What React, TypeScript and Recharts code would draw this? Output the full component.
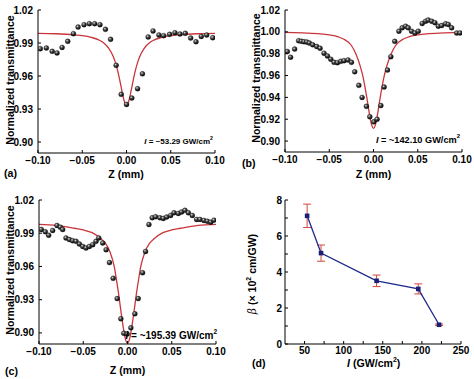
import React from "react"
import { ComposedChart, Line, Scatter, XAxis, YAxis, ErrorBar } from "recharts"

// (a) I = ~53.29 GW/cm2
const zA = [-0.0974, -0.0906, -0.084, -0.0785, -0.0728, -0.0664, -0.06, -0.0547, -0.048, -0.042, -0.036, -0.03, -0.0238, -0.018, -0.0117, -0.006, 0.0, 0.006, 0.0125, 0.018, 0.0245, 0.03, 0.0366, 0.042, 0.0487, 0.0547, 0.0604, 0.0664, 0.0725, 0.0785, 0.0845, 0.0906, 0.0974]
const tA = [0.9848, 0.9855, 0.9824, 0.981, 0.986, 0.9915, 0.9985, 1.0045, 1.0067, 1.0076, 1.0076, 1.0067, 1.0024, 0.9933, 0.9697, 0.9433, 0.9342, 0.94, 0.9485, 0.962, 0.9955, 1.001, 0.9973, 0.9967, 0.9979, 0.9994, 0.9982, 0.9988, 0.9945, 0.9912, 0.996, 0.9973, 0.9948]

// (b) I = ~142.10 GW/cm2
const zB = [-0.0974, -0.0937, -0.0891, -0.0846, -0.0815, -0.0786, -0.0755, -0.0725, -0.0687, -0.0642, -0.0604, -0.0559, -0.0521, -0.0483, -0.0446, -0.0408, -0.037, -0.0333, -0.0288, -0.0249, -0.0212, -0.0166, -0.0129, -0.008, -0.0042, 0.0003, 0.004, 0.0083, 0.012, 0.0158, 0.0196, 0.024, 0.0287, 0.0324, 0.0362, 0.0392, 0.043, 0.0468, 0.0505, 0.055, 0.0589, 0.0618, 0.0657, 0.0694, 0.0732, 0.077, 0.0815, 0.0845, 0.0883, 0.094, 0.0977]
const tB = [0.982, 0.9768, 0.9842, 0.9919, 0.9913, 0.991, 0.9907, 0.9898, 0.9882, 0.9866, 0.985, 0.9805, 0.978, 0.975, 0.9721, 0.9718, 0.973, 0.9736, 0.9743, 0.9721, 0.9634, 0.951, 0.94, 0.9318, 0.9223, 0.9176, 0.92, 0.9325, 0.9495, 0.965, 0.9773, 0.9913, 1.0006, 1.0037, 1.0052, 1.0037, 1.0006, 0.999, 1.0006, 1.0077, 1.0098, 1.0108, 1.0098, 1.0084, 1.0052, 1.0058, 1.0074, 1.0068, 1.0037, 0.999, 0.999]

// (c) I = ~195.39 GW/cm2
const zC = [-0.0974, -0.0929, -0.0891, -0.0846, -0.0797, -0.0759, -0.0733, -0.0695, -0.0657, -0.062, -0.0582, -0.0544, -0.0506, -0.0469, -0.0431, -0.0393, -0.0356, -0.0325, -0.028, -0.0242, -0.0204, -0.0162, -0.0117, -0.0075, -0.0042, -0.0004, 0.0038, 0.0083, 0.0121, 0.017, 0.0204, 0.0242, 0.0279, 0.0317, 0.0366, 0.0404, 0.0442, 0.0487, 0.0525, 0.0574, 0.0611, 0.0649, 0.0687, 0.0732, 0.0781, 0.0819, 0.0864, 0.0902, 0.094, 0.0977]
const tC = [0.9934, 0.9913, 0.9882, 0.9925, 0.997, 0.9955, 0.9934, 0.9858, 0.9843, 0.9833, 0.9827, 0.9803, 0.9781, 0.9767, 0.9781, 0.9797, 0.9827, 0.9858, 0.9812, 0.9751, 0.9635, 0.9493, 0.931, 0.9128, 0.8997, 0.8991, 0.9046, 0.9173, 0.931, 0.9544, 0.9736, 0.9979, 1.004, 1.0049, 1.004, 1.0034, 1.0046, 1.0061, 1.0085, 1.0079, 1.0092, 1.0107, 1.0085, 1.0061, 1.0025, 1.0025, 1.0016, 1.0009, 1.0, 1.0018]

// fitted curves
const fitZ = [-0.1, -0.08, -0.06, -0.05, -0.04, -0.03, -0.025, -0.02, -0.015, -0.0125, -0.01, -0.0075, -0.005, -0.0025, 0, 0.0025, 0.005, 0.0075, 0.01, 0.0125, 0.015, 0.02, 0.025, 0.03, 0.04, 0.05, 0.06, 0.08, 0.1]
const fitA = [0.9988, 0.9984, 0.9975, 0.9967, 0.9952, 0.9923, 0.9896, 0.9852, 0.9778, 0.9722, 0.9649, 0.9558, 0.9457, 0.937, 0.9335, 0.937, 0.9457, 0.9558, 0.9649, 0.9722, 0.9778, 0.9852, 0.9896, 0.9923, 0.9952, 0.9967, 0.9975, 0.9984, 0.9988]
const fitB = [0.9995, 0.999, 0.9982, 0.9972, 0.9955, 0.9915, 0.9875, 0.98, 0.9686, 0.961, 0.9513, 0.9395, 0.9267, 0.916, 0.9117, 0.916, 0.9267, 0.9395, 0.9513, 0.961, 0.9686, 0.98, 0.9875, 0.9915, 0.9955, 0.9972, 0.9982, 0.999, 0.9995]
const fitC = [0.998, 0.997, 0.9945, 0.993, 0.9905, 0.985, 0.981, 0.9735, 0.96, 0.948, 0.935, 0.92, 0.906, 0.895, 0.8905, 0.895, 0.906, 0.92, 0.935, 0.948, 0.96, 0.9735, 0.981, 0.985, 0.9905, 0.993, 0.9945, 0.997, 0.998]

// (d) beta vs intensity
const intensity = [53.29, 71.05, 142.1, 195.39, 222.0]
const beta = [7.12, 5.05, 3.51, 3.06, 1.07]
const betaErr = [0.65, 0.45, 0.32, 0.28, 0.04]

const zTicks = [-0.1, -0.05, 0, 0.05, 0.1]
const tTicks3 = [0.9, 0.93, 0.96, 0.99, 1.02]
const tTicks2 = [0.9, 0.92, 0.94, 0.96, 0.98, 1.0, 1.02]
const iTicks = [50, 75, 100, 125, 150, 175, 200, 225, 250]
const bTicks = [0, 1, 2, 3, 4, 5, 6, 7, 8]

const FONT = '"Liberation Sans", Arial, sans-serif'
const RED = "#c8363c"
const tickStyle = { fill: "#000", fontSize: 10, fontWeight: 700, fontFamily: FONT }

const toPts = (z: number[], t: number[]) => z.map((v, i) => ({ z: v, t: t[i] }))
const fmtZ = (v: number) => (v < 0 ? "\u2212" + Math.abs(v).toFixed(2) : v.toFixed(2))

function Ball(props: any) {
  const { cx, cy, gid } = props
  if (cx == null || cy == null) return null
  return <circle cx={cx} cy={cy} r={2.5} fill={`url(#${gid})`} stroke="#111" strokeWidth={0.3} />
}

function ZPanel({ left, top, w, h, margin, yWidth, yTicks, pts, fit, gid }: any) {
  const box = { stroke: "#000", strokeWidth: 1 }
  return (
    <div style={{ position: "absolute", left, top }}>
      <ComposedChart width={w} height={h} margin={margin}>
        <defs>
          <radialGradient id={gid} cx="38%" cy="35%" r="65%">
            <stop offset="0%" stopColor="#e0e0e0" />
            <stop offset="40%" stopColor="#4a4a4a" />
            <stop offset="100%" stopColor="#000" />
          </radialGradient>
        </defs>
        <XAxis type="number" dataKey="z" domain={[-0.1, 0.1]} ticks={zTicks} tickFormatter={fmtZ}
          allowDataOverflow height={20} tickSize={-3} tickMargin={7} axisLine={box} tickLine={box} tick={tickStyle} interval={0} />
        <XAxis xAxisId="top" orientation="top" type="number" domain={[-0.1, 0.1]} ticks={zTicks}
          height={0} tick={false} tickSize={-3} axisLine={box} tickLine={box} />
        <YAxis type="number" domain={[0.89, 1.02]} ticks={yTicks} tickFormatter={(v: number) => v.toFixed(2)}
          allowDataOverflow width={yWidth} tickSize={-3} tickMargin={8} axisLine={box} tickLine={box} tick={tickStyle} interval={0} />
        <YAxis yAxisId="right" orientation="right" type="number" domain={[0.89, 1.02]} ticks={yTicks}
          width={0} tick={false} tickSize={-3} axisLine={box} tickLine={box} />
        <Line data={fit} dataKey="t" type="monotone" stroke={RED} strokeWidth={1.3} dot={false} isAnimationActive={false} />
        <Scatter data={pts} dataKey="t" isAnimationActive={false} shape={(p: any) => <Ball {...p} gid={gid} />} />
      </ComposedChart>
    </div>
  )
}

// superscript 2 inside an svg text
const Sup = ({ size }: any) => (
  <tspan dy={-size * 0.4} fontSize={size * 0.65}>2</tspan>
)

function Note({ x, y, v, size }: any) {
  return (
    <text x={x} y={y} textAnchor="end" dominantBaseline="central" fontSize={size}>
      <tspan fontStyle="italic">I</tspan> = ~{v} GW/cm<Sup size={size} />
    </text>
  )
}

function YTitle({ x, y }: any) {
  return (
    <text x={x} y={y} transform={`rotate(-90 ${x} ${y})`} textAnchor="middle" dominantBaseline="central">
      <tspan>Normalized</tspan>
      <tspan> transmittance</tspan>
    </text>
  )
}

export default function App() {
  const dData = intensity.map((v, i) => ({ x: v, beta: beta[i], err: betaErr[i] }))
  const box = { stroke: "#000", strokeWidth: 1 }
  return (
    <div style={{ position: "absolute", left: 0, top: 0, width: 474, height: 379, background: "#fff", overflow: "hidden" }}>
      <ZPanel left={0} top={0} w={237} h={190} margin={{ top: 10, right: 22, bottom: 17, left: 0 }}
        yWidth={38} yTicks={tTicks3} pts={toPts(zA, tA)} fit={toPts(fitZ, fitA)} gid="ballA" />
      <ZPanel left={237} top={0} w={237} h={190} margin={{ top: 10, right: 12, bottom: 18, left: 0 }}
        yWidth={48} yTicks={tTicks2} pts={toPts(zB, tB)} fit={toPts(fitZ, fitB)} gid="ballB" />
      <ZPanel left={0} top={190} w={237} h={189} margin={{ top: 10, right: 21, bottom: 15, left: 0 }}
        yWidth={39} yTicks={tTicks3} pts={toPts(zC, tC)} fit={toPts(fitZ, fitC)} gid="ballC" />

      <div style={{ position: "absolute", left: 237, top: 190 }}>
        <ComposedChart width={237} height={189} margin={{ top: 10, right: 13, bottom: 15, left: 0 }}>
          <XAxis type="number" dataKey="x" domain={[25, 250]} ticks={iTicks} interval={0}
            tickFormatter={(v: number) => (v % 50 === 0 ? String(v) : "")}
            allowDataOverflow height={20} tickSize={-3} tickMargin={6} axisLine={box} tickLine={box} tick={tickStyle} />
          <XAxis xAxisId="top" orientation="top" type="number" domain={[25, 250]} ticks={iTicks}
            height={0} tick={false} tickSize={-3} axisLine={box} tickLine={box} />
          <YAxis type="number" domain={[0, 8]} ticks={bTicks} interval={0}
            tickFormatter={(v: number) => (v % 2 === 0 ? String(v) : "")}
            allowDataOverflow width={48} tickSize={-3} tickMargin={6} axisLine={box} tickLine={box} tick={tickStyle} />
          <YAxis yAxisId="right" orientation="right" type="number" domain={[0, 8]} ticks={bTicks}
            width={0} tick={false} tickSize={-3} axisLine={box} tickLine={box} />
          <Line data={dData} dataKey="beta" stroke="#1f2a8c" strokeWidth={1.3} isAnimationActive={false}
            dot={(p: any) => <rect key={`sq-${p.index}`} x={p.cx - 2.3} y={p.cy - 2.3} width={4.6} height={4.6} fill="#1a1f78" />}>
            <ErrorBar dataKey="err" width={4} stroke="#d8463c" strokeWidth={1} direction="y" />
          </Line>
        </ComposedChart>
      </div>

      <svg width={474} height={379} style={{ position: "absolute", left: 0, top: 0, pointerEvents: "none" }}
        fontFamily={FONT} fontWeight={700} fontSize={10.6} fill="#000">
        {/* axis titles */}
        <YTitle x={10} y={80} />
        <YTitle x={256} y={78} />
        <YTitle x={10} y={270} />
        <text x={252} y={274} transform="rotate(-90 252 274)" textAnchor="middle" dominantBaseline="central">
          <tspan fontFamily='"DejaVu Serif", serif' fontStyle="italic" fontWeight={400}>β</tspan> (× 10<Sup size={10.6} />
          <tspan dy={10.6 * 0.4}> cm/GW)</tspan>
        </text>
        <text x={126} y={174} textAnchor="middle" dominantBaseline="central">Z (mm)</text>
        <text x={373.5} y={174} textAnchor="middle" dominantBaseline="central">Z (mm)</text>
        <text x={127.5} y={370} textAnchor="middle" dominantBaseline="central">Z (mm)</text>
        <text x={373.7} y={363} textAnchor="middle" dominantBaseline="central">
          <tspan fontStyle="italic">I</tspan> (GW/cm<Sup size={10.6} /><tspan dy={10.6 * 0.4}>)</tspan>
        </text>

        {/* panel tags */}
        <text x={4} y={173} dominantBaseline="central">(a)</text>
        <text x={242} y={163} dominantBaseline="central">(b)</text>
        <text x={5} y={371} dominantBaseline="central">(c)</text>
        <text x={252} y={363} dominantBaseline="central">(d)</text>

        {/* intensity notes */}
        <Note x={213} y={141} v="53.29" size={8} />
        <Note x={460} y={140} v="142.10" size={9.2} />
        <Note x={217} y={335} v="195.39" size={10} />
      </svg>
    </div>
  )
}
